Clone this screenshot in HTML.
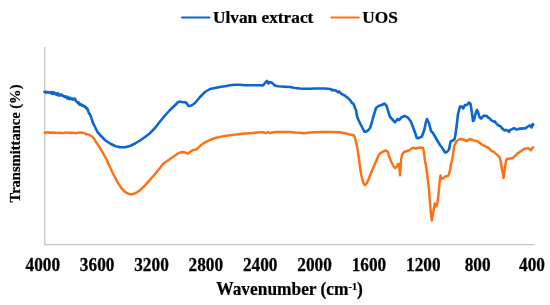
<!DOCTYPE html>
<html><head><meta charset="utf-8"><style>
html,body{margin:0;padding:0;background:#fff;}
body{width:550px;height:305px;overflow:hidden;}
svg{display:block;}
text{font-family:"Liberation Serif","Times New Roman",serif;font-weight:bold;fill:#000;stroke:#000;stroke-width:0.25px;}
</style></head><body>
<svg width="550" height="305" viewBox="0 0 550 305">
<rect width="550" height="305" fill="#fff"/>
<g stroke="#c6c6c6" stroke-width="1.3" fill="none">
<line x1="44.8" y1="47" x2="44.8" y2="245.3"/>
<line x1="44.2" y1="244.7" x2="534.2" y2="244.7"/>
</g>
<polyline fill="none" stroke="#0b66d0" stroke-width="2.6" stroke-linejoin="round" stroke-linecap="round" points="44.5,92.0 45.3,91.6 46.1,92.6 46.9,92.5 47.6,92.0 48.4,92.4 49.2,92.4 50.0,92.5 50.5,92.9 51.0,93.3 51.5,92.0 52.0,92.0 52.5,93.7 53.0,93.0 53.5,93.7 54.0,92.3 54.5,93.3 55.0,93.5 55.5,94.1 56.0,93.3 56.5,94.8 57.0,94.9 57.5,93.3 58.0,93.5 58.5,94.6 59.0,95.6 59.5,94.6 60.0,95.0 60.5,94.6 61.0,95.2 61.5,94.7 62.0,95.2 62.5,95.9 63.0,96.2 63.5,95.9 64.0,96.1 64.5,96.2 65.0,97.0 65.5,97.1 66.0,96.9 66.5,96.5 67.0,98.3 67.5,97.9 68.0,98.2 68.5,97.4 69.0,99.2 69.5,99.1 70.0,98.5 70.5,97.8 71.0,98.3 71.5,99.1 72.0,99.1 72.5,99.6 73.0,98.6 73.5,99.5 74.0,99.2 74.5,98.6 75.0,99.0 75.5,99.8 76.0,101.1 76.5,101.7 77.0,101.7 77.5,102.5 78.0,103.0 78.5,102.4 79.0,103.2 79.5,104.7 80.0,104.5 80.5,104.5 81.0,104.2 81.5,105.2 82.0,105.7 82.5,105.8 83.0,105.4 83.5,105.8 84.0,106.1 84.5,106.9 85.0,106.5 85.5,107.2 86.0,107.6 86.5,108.5 87.0,108.2 87.5,108.9 88.0,110.5 88.5,111.9 89.0,113.5 89.5,113.7 90.0,114.5 90.5,115.7 91.0,116.6 91.5,118.6 92.0,120.0 93.0,122.9 94.0,125.0 95.0,127.0 96.0,129.0 97.0,131.0 98.0,132.8 99.0,133.3 100.0,135.0 105.0,140.0 110.0,143.5 115.0,146.0 120.0,147.2 122.0,147.3 125.0,147.3 130.0,146.0 135.0,143.5 140.0,140.5 145.0,137.0 150.0,133.2 155.0,128.0 160.0,121.5 165.0,115.5 170.0,110.0 175.0,105.2 178.0,102.3 180.0,101.6 183.0,102.2 185.0,102.3 186.5,103.0 188.5,106.0 191.0,105.7 193.0,104.5 195.0,103.0 198.0,99.5 200.0,97.0 205.0,92.0 210.0,89.0 215.0,88.0 220.0,87.0 225.0,86.2 230.0,85.3 235.0,84.7 240.0,84.8 245.0,85.2 250.0,85.2 255.0,85.3 260.0,85.3 263.0,85.5 265.0,83.0 267.0,81.0 268.5,83.5 270.0,82.0 272.0,83.0 275.0,85.5 278.0,86.3 285.0,86.7 290.0,87.0 295.0,88.0 300.0,88.5 305.0,88.7 310.0,88.7 315.0,88.5 320.0,88.5 325.0,88.5 330.0,89.0 331.0,89.3 332.0,90.2 333.0,90.0 334.0,90.1 335.0,90.5 336.0,90.6 337.0,91.4 338.0,92.3 339.0,91.4 340.0,92.5 341.0,93.5 342.0,94.1 343.0,94.8 344.0,95.2 345.0,95.5 346.0,96.8 347.0,97.2 348.0,98.0 349.0,99.1 350.0,100.0 351.0,101.4 352.0,103.0 353.0,103.4 354.0,105.0 355.0,108.0 356.0,110.0 357.0,116.0 358.0,119.0 359.0,121.0 360.0,123.1 361.0,125.0 363.0,129.0 364.5,131.8 366.0,131.5 368.0,130.5 370.0,128.0 372.0,122.0 373.0,117.8 374.0,114.5 375.0,111.3 376.0,108.0 377.0,107.2 378.0,106.5 379.0,105.9 380.0,105.4 381.0,105.2 382.1,104.7 383.3,104.2 384.4,103.5 385.4,104.7 386.5,105.5 388.4,112.0 390.1,117.0 392.4,119.5 395.0,122.3 396.5,120.5 397.3,119.0 399.2,120.0 401.3,117.5 404.5,115.8 407.6,117.3 410.8,121.5 412.9,126.8 415.0,132.5 416.6,137.5 418.0,138.3 420.0,137.5 422.0,136.3 424.4,129.5 426.0,121.8 427.0,119.0 429.0,123.0 431.0,131.0 433.0,133.0 435.0,136.5 437.0,140.0 440.0,145.0 443.0,149.0 445.0,152.5 447.0,152.0 449.0,149.5 450.6,141.5 452.9,140.5 454.7,138.8 455.8,132.0 457.0,123.0 458.0,114.0 460.0,106.5 462.0,106.5 463.0,108.5 465.0,105.0 467.0,105.0 469.0,102.5 470.5,104.0 471.5,110.0 473.0,121.0 474.0,120.0 476.0,112.0 477.0,110.0 478.0,112.0 479.5,117.0 481.0,118.5 484.0,115.5 485.0,115.7 486.0,116.0 487.0,116.1 488.0,117.5 489.0,118.0 490.0,118.7 491.0,120.0 492.0,120.6 493.0,121.0 494.0,121.8 495.0,121.5 496.0,123.1 497.0,124.2 498.0,125.0 499.0,125.9 500.0,126.0 501.0,126.7 502.0,128.5 503.0,129.0 504.0,130.0 505.0,130.5 506.0,129.9 507.0,130.5 508.0,130.6 509.0,132.0 510.0,130.1 511.0,129.5 512.0,129.4 513.0,128.5 514.0,128.4 515.0,128.5 516.0,129.4 517.0,129.5 518.0,129.1 519.0,128.6 520.0,129.0 521.0,128.4 522.0,128.8 523.0,128.2 524.0,128.3 525.0,128.5 526.0,128.1 527.0,127.1 528.0,126.5 529.0,125.8 530.0,125.5 531.5,127.5 532.6,124.0 533.3,125.0"/>
<polyline fill="none" stroke="#ff7014" stroke-width="2.45" stroke-linejoin="round" stroke-linecap="round" points="44.5,132.5 45.4,132.9 46.3,132.9 47.2,132.1 48.2,132.1 49.1,132.8 50.0,132.5 51.0,132.8 52.0,132.7 53.0,132.4 54.0,132.8 55.0,132.7 56.0,132.9 57.0,132.9 58.0,132.6 59.0,132.9 60.0,133.0 61.0,132.8 62.0,133.0 63.0,133.1 64.0,133.0 65.0,132.5 66.0,132.6 67.0,132.7 68.0,132.6 69.0,132.5 70.0,133.0 71.0,132.6 72.0,133.0 73.0,132.8 74.0,132.9 75.0,133.0 76.0,133.3 77.0,132.9 78.0,132.8 79.0,132.4 80.0,132.6 81.0,132.3 82.0,132.8 83.0,132.8 84.0,133.2 85.0,133.4 86.0,134.2 87.0,134.2 88.0,134.4 89.0,134.6 90.0,135.4 92.0,136.5 93.5,138.0 94.8,139.7 96.0,142.0 97.8,144.6 100.3,148.7 103.9,154.6 107.1,160.5 108.6,164.3 110.3,167.8 112.5,172.5 115.2,177.8 117.2,181.6 119.5,185.3 121.8,188.4 124.0,190.9 126.4,192.7 128.7,193.9 131.0,194.4 133.5,194.0 136.3,192.7 139.0,191.0 142.0,188.3 145.0,185.3 147.7,182.4 151.0,178.5 154.2,175.2 157.0,171.5 160.1,167.8 163.0,164.0 165.0,162.5 170.0,159.0 175.0,155.5 178.0,153.5 180.0,152.5 183.0,152.0 185.0,152.5 188.0,153.5 190.0,152.0 193.0,150.0 196.0,149.5 198.0,148.0 200.0,146.0 203.0,143.6 205.0,142.4 210.0,140.0 215.0,138.0 220.0,136.9 225.0,135.9 230.0,135.2 235.0,134.6 240.0,134.0 245.0,133.5 250.0,133.2 255.0,132.8 260.0,132.3 263.0,132.2 265.5,133.2 268.0,132.0 270.0,133.0 275.0,132.0 280.0,132.0 290.0,132.0 295.0,132.5 300.0,132.7 304.0,133.2 310.0,132.5 320.0,132.0 330.0,132.0 340.0,132.2 345.0,133.3 350.0,134.5 354.0,135.5 355.0,138.0 356.0,142.0 357.0,146.0 358.0,152.0 359.0,159.0 360.0,167.0 361.0,173.5 362.0,178.0 363.0,182.0 365.0,185.3 367.0,183.0 369.0,178.0 371.0,173.0 374.0,166.0 377.0,159.0 378.5,155.5 380.0,153.5 383.0,151.5 386.0,150.5 388.0,152.0 389.0,156.0 391.0,161.0 393.0,165.5 395.0,168.0 397.0,166.5 398.0,164.0 399.2,164.0 400.0,175.3 400.8,165.0 401.3,158.0 402.5,154.0 404.0,152.0 407.0,151.0 410.0,150.0 412.0,148.0 414.0,148.0 416.0,148.5 418.0,147.8 421.0,147.5 423.0,148.0 424.0,153.0 425.0,161.0 426.0,166.0 427.0,173.0 428.0,181.0 429.0,190.0 430.0,203.0 431.0,214.0 431.8,220.5 433.0,214.0 434.0,208.0 434.7,203.5 436.0,206.5 437.0,205.0 438.0,199.0 439.0,189.0 440.0,178.0 440.5,175.5 441.0,177.0 442.0,179.0 443.0,178.5 445.0,176.5 448.0,176.0 449.0,174.0 450.0,170.0 451.0,164.0 452.0,160.0 453.0,155.0 454.1,146.5 456.4,141.3 459.8,139.0 463.3,139.5 467.0,141.0 470.0,139.0 474.0,140.5 478.0,141.5 479.0,142.6 480.0,143.0 481.0,143.9 482.0,144.5 483.0,145.0 484.0,145.9 485.0,146.0 486.0,146.7 487.0,147.3 488.0,147.5 489.0,148.3 490.0,149.3 491.0,150.5 492.0,151.2 493.0,151.5 494.0,151.9 495.0,153.0 496.0,154.0 497.0,154.5 498.0,155.7 499.0,156.5 500.0,158.0 501.0,163.0 502.0,170.0 503.0,174.0 503.5,178.0 504.0,175.0 505.0,167.0 506.0,161.0 507.0,159.0 508.0,158.8 509.0,158.7 510.0,158.5 511.0,158.2 512.0,158.3 513.0,157.7 514.0,156.9 515.0,156.0 516.0,155.3 517.0,153.9 518.0,153.0 519.0,152.6 520.0,151.5 521.0,151.3 522.0,150.3 523.0,149.7 524.0,149.2 525.0,148.5 526.0,148.7 527.0,148.4 528.0,148.0 529.0,148.7 530.0,149.5 531.0,150.5 532.5,147.6 533.2,147.3"/>
<g font-size="18.2">
<text transform="translate(42.80,270.6) scale(0.95,1)" text-anchor="middle">4000</text>
<text transform="translate(97.16,270.6) scale(0.95,1)" text-anchor="middle">3600</text>
<text transform="translate(151.51,270.6) scale(0.95,1)" text-anchor="middle">3200</text>
<text transform="translate(205.87,270.6) scale(0.95,1)" text-anchor="middle">2800</text>
<text transform="translate(260.22,270.6) scale(0.95,1)" text-anchor="middle">2400</text>
<text transform="translate(314.58,270.6) scale(0.95,1)" text-anchor="middle">2000</text>
<text transform="translate(368.93,270.6) scale(0.95,1)" text-anchor="middle">1600</text>
<text transform="translate(423.29,270.6) scale(0.95,1)" text-anchor="middle">1200</text>
<text transform="translate(477.64,270.6) scale(0.95,1)" text-anchor="middle">800</text>
<text transform="translate(532.00,270.6) scale(0.95,1)" text-anchor="middle">400</text>
</g>
<line x1="182" y1="17.5" x2="209.5" y2="17.5" stroke="#0b66d0" stroke-width="2.1" stroke-linecap="round"/>
<text transform="translate(213,23.4) scale(0.984,1)" font-size="17.6">Ulvan extract</text>
<line x1="331.3" y1="17.5" x2="358.8" y2="17.5" stroke="#ff7014" stroke-width="2.1" stroke-linecap="round"/>
<text transform="translate(362.3,23.4) scale(0.984,1)" font-size="17.6">UOS</text>
<text transform="translate(20.4,143.5) rotate(-90) scale(0.938,1)" text-anchor="middle" font-size="15.5">Transmittance (%)</text>
<text transform="translate(216.3,295.4) scale(0.965,1)" font-size="18">Wavenumber (cm<tspan font-size="10.5" dy="-5.2">-1</tspan><tspan dy="5.2">)</tspan></text>
</svg>
</body></html>
